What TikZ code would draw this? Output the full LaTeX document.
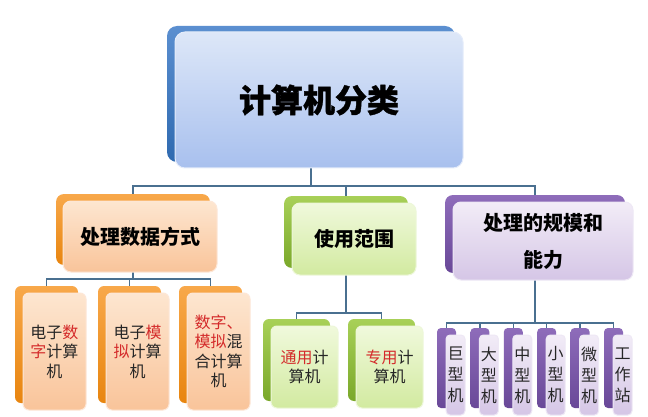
\documentclass[tikz,border=0pt]{standalone}
\usepackage{fontspec}
\newfontfamily\cjk{Noto Sans CJK SC}
\newfontfamily\cjkhv[BoldFeatures={FakeBold=1.2}]{Noto Sans CJK SC}
\usetikzlibrary{backgrounds}
\definecolor{conn}{HTML}{4A7090}
\definecolor{redt}{HTML}{D42A2A}
\definecolor{bbT}{HTML}{5B8FD0}\definecolor{bbB}{HTML}{2F6AB0}
\definecolor{bfT}{HTML}{DDE7F8}\definecolor{bfB}{HTML}{A8C0EE}
\definecolor{obT}{HTML}{F8A84A}\definecolor{obB}{HTML}{E8850F}
\definecolor{ofT}{HTML}{FDE6D0}\definecolor{ofB}{HTML}{F9C49A}
\definecolor{gbT}{HTML}{A8D058}\definecolor{gbB}{HTML}{7AA82A}
\definecolor{gfT}{HTML}{F0F9DC}\definecolor{gfB}{HTML}{D2EAA0}
\definecolor{pbT}{HTML}{8E6CBA}\definecolor{pbB}{HTML}{694898}
\definecolor{pfT}{HTML}{F2ECF7}\definecolor{pfB}{HTML}{D5C6E6}
\tikzset{
  box/.style={rectangle, rounded corners=#1, inner sep=0pt, outer sep=0pt, anchor=north west},
  box/.default=6pt,
  conn/.style={draw=conn, line width=1.5pt},
  heading/.style={font=\cjk\bfseries\fontsize{20}{37}\selectfont, align=center, text=black},
  body/.style={font=\cjk\fontsize{16}{19.5}\selectfont, align=center, text=black!85},
  pbody/.style={font=\cjk\fontsize{16}{21}\selectfont, align=center, text=black!85},
}
\newcommand{\rd}[1]{\textcolor{redt}{#1}}
\begin{document}
\begin{tikzpicture}[x=1pt,y=-1pt]
\useasboundingbox (0,0) rectangle (648,417);
% ---------- top ----------
\node[box=10pt, top color=bbT, bottom color=bbB, minimum width=288pt, minimum height=136pt] (topb) at (167,26) {};
\node[box=10pt, top color=bfT, bottom color=bfB, draw=white!70!bfB, line width=1pt, minimum width=288pt, minimum height=136pt,
  font=\cjkhv\bfseries\fontsize{32}{32}\selectfont] (topf) at (175,32) {计算机分类};
% ---------- level 1 ----------
\node[box=8pt, top color=obT, bottom color=obB, minimum width=154pt, minimum height=71pt] (ob) at (56,194) {};
\node[box=8pt, top color=ofT, bottom color=ofB, draw=white!60!ofB, line width=1pt, minimum width=154pt, minimum height=71pt, heading] (of) at (63,201) {处理数据方式};
\node[box=8pt, top color=gbT, bottom color=gbB, minimum width=124pt, minimum height=72pt] (gb) at (284,196) {};
\node[box=8pt, top color=gfT, bottom color=gfB, draw=white!60!gfB, line width=1pt, minimum width=124pt, minimum height=72pt, heading] (gf) at (292,203) {使用范围};
\node[box=8pt, top color=pbT, bottom color=pbB, minimum width=180pt, minimum height=78pt] (pb) at (445,195) {};
\node[box=8pt, top color=pfT, bottom color=pfB, draw=white!60!pfB, line width=1pt, minimum width=180pt, minimum height=78pt, heading] (pf) at (453,202) {处理的规模和\\能力};
% ---------- orange children ----------
\foreach \i/\x in {1/23,2/106,3/187}{
  \node[box=6pt, top color=obT, bottom color=obB, minimum width=63pt, minimum height=117pt] (ocb\i) at (\x-8,286) {};
}
\node[box=6pt, top color=ofT, bottom color=ofB, draw=white!60!ofB, line width=1pt, minimum width=63pt, minimum height=117pt, body] (ocf1) at (23,293) {电子\rd{数}\\\rd{字}计算\\机};
\node[box=6pt, top color=ofT, bottom color=ofB, draw=white!60!ofB, line width=1pt, minimum width=63pt, minimum height=117pt, body] (ocf2) at (106,293) {电子\rd{模}\\\rd{拟}计算\\机};
\node[box=6pt, top color=ofT, bottom color=ofB, draw=white!60!ofB, line width=1pt, minimum width=63pt, minimum height=117pt, body] (ocf3) at (187,293) {\rd{数字、}\\\rd{模拟}混\\合计算\\机};
% ---------- green children ----------
\node[box=6pt, top color=gbT, bottom color=gbB, minimum width=67pt, minimum height=82pt] (gcb1) at (263,319) {};
\node[box=6pt, top color=gfT, bottom color=gfB, draw=white!60!gfB, line width=1pt, minimum width=67pt, minimum height=82pt, body] (gcf1) at (271,326) {\rd{通用}计\\算机};
\node[box=6pt, top color=gbT, bottom color=gbB, minimum width=67pt, minimum height=82pt] (gcb2) at (348,319) {};
\node[box=6pt, top color=gfT, bottom color=gfB, draw=white!60!gfB, line width=1pt, minimum width=67pt, minimum height=82pt, body] (gcf2) at (356,326) {\rd{专用}计\\算机};
% ---------- purple children ----------
\foreach \i/\t in {0/巨\\型\\机,1/大\\型\\机,2/中\\型\\机,3/小\\型\\机,4/微\\型\\机,5/工\\作\\站}{
  \node[box=4pt, top color=pbT, bottom color=pbB, minimum width=19pt, minimum height=80pt] (pcb\i) at (437+33.4*\i,328) {};
  \node[box=4pt, top color=pfT, bottom color=pfB, draw=white!60!pfB, line width=1pt, minimum width=19pt, minimum height=80pt, pbody] (pcf\i) at (446+33.4*\i,335) {\t};
}
% ---------- connectors ----------
\begin{scope}[on background layer]
\fill[white] (0,0) rectangle (648,417);
\coordinate (hub) at (311,186);
\draw[conn] (topb.south) -- (hub);
\draw[conn] (hub) -| (ob.north);
\draw[conn] (hub) -| (gb.north);
\draw[conn] (hub) -| (pb.north);
\coordinate (ohub) at (133,279);
\draw[conn] (ob.south) -- (ohub);
\foreach \i in {1,2,3}{\draw[conn] (ohub) -| (ocb\i.north);}
\coordinate (ghub) at (346,313);
\draw[conn] (gb.south) -- (ghub);
\foreach \i in {1,2}{\draw[conn] (ghub) -| (gcb\i.north);}
\coordinate (phub) at (535,323);
\draw[conn] (pb.south) -- (phub);
\foreach \i in {0,...,5}{\draw[conn] (phub) -| (pcb\i.north);}
\end{scope}
\end{tikzpicture}
\end{document}
